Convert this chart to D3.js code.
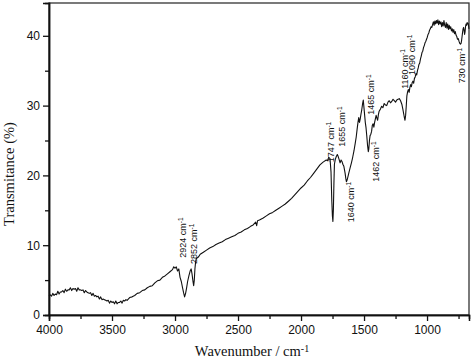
<!DOCTYPE html>
<html>
<head>
<meta charset="utf-8">
<script src="https://cdn.jsdelivr.net/npm/d3@7"></script>
<style>
  body { margin: 0; background: #fff; }
  .tick text { font-family: "Liberation Sans", Arial, sans-serif; font-size: 12px; fill: #111; }
</style>
</head>
<body>
<svg id="ftir"></svg>
<script>
let width = 474, height = 361;
let margin = {top: 3, right: 5, bottom: 46, left: 49};

// spectrum (wavenumber cm-1, transmittance %)
let wavenumber = [
  4000,3990,3980,3970,3960,3950,3940,3930,3920,3910,3900,3890,3880,3870,3860,3850,3840,3830,3820,3810,
  3800,3790,3780,3770,3760,3750,3740,3730,3720,3710,3700,3690,3680,3670,3660,3650,3640,3630,3620,3610,
  3600,3590,3580,3570,3560,3550,3540,3530,3520,3510,3500,3490,3480,3470,3460,3450,3440,3430,3420,3410,
  3400,3390,3380,3360,3340,3320,3300,3280,3260,3240,3220,3200,3180,3160,3140,3120,3100,3080,3060,3040,
  3020,3010,3000,2990,2980,2970,2960,2950,2940,2932,2924,2916,2908,2900,2890,2880,2872,2865,2858,2852,
  2847,2842,2836,2830,2815,2800,2775,2750,2725,2700,2675,2650,2625,2600,2575,2550,2525,2500,2475,2450,
  2425,2400,2380,2360,2352,2345,2330,2300,2275,2250,2225,2200,2175,2150,2125,2100,2075,2050,2025,2000,
  1975,1950,1925,1900,1875,1850,1825,1800,1790,1780,1770,1762,1756,1751,1747,1743,1739,1735,1728,1720,
  1712,1705,1698,1690,1682,1675,1668,1660,1655,1650,1645,1640,1635,1628,1620,1610,1600,1590,1580,1570,
  1562,1555,1548,1542,1536,1530,1524,1518,1512,1506,1500,1495,1490,1484,1478,1472,1466,1462,1457,1452,
  1446,1440,1434,1428,1422,1416,1410,1404,1398,1392,1386,1380,1370,1360,1350,1340,1330,1320,1310,1300,
  1290,1280,1270,1260,1250,1240,1230,1220,1210,1200,1192,1185,1179,1175,1170,1165,1160,1154,1148,1142,
  1136,1130,1124,1118,1112,1106,1100,1094,1088,1082,1076,1070,1064,1058,1052,1046,1040,1034,1028,1022,
  1016,1010,1004,998,992,986,980,974,968,962,956,950,944,938,932,926,920,914,908,902,
  896,890,884,878,872,866,860,854,848,842,836,830,824,818,812,806,800,794,788,782,
  776,770,764,758,752,746,740,735,730,726,722,718,714,710,706,702,698,694,690,686,
  682,678,674,670,667
];
let transmittance = [
  2.7,2.9,2.7,3.1,2.8,3.0,2.9,3.4,3.0,3.3,3.3,3.5,3.2,3.7,3.4,3.6,3.6,3.9,3.5,3.8,
  3.7,3.8,3.4,3.9,3.6,3.6,3.5,3.6,3.2,3.5,3.3,3.2,3.1,3.2,2.8,3.1,2.7,2.8,2.6,2.7,
  2.3,2.6,2.2,2.3,2.2,2.1,2.0,2.1,1.7,2.0,1.8,1.9,1.6,2.0,1.6,1.8,1.8,2.0,1.7,2.1,
  2.0,2.2,2.1,2.5,2.6,2.8,3.1,3.2,3.5,3.6,3.9,4.1,4.2,4.6,4.9,5.0,5.4,5.6,5.9,6.2,
  6.5,6.9,6.7,6.9,6.3,6.6,5.4,4.8,3.9,3.2,2.6,3.1,3.9,4.8,5.6,6.3,6.6,5.9,4.9,4.2,
  5.0,6.6,7.7,8.1,8.3,8.7,9.0,9.3,9.6,9.8,10.1,10.3,10.5,10.8,11.0,11.2,11.4,11.7,11.9,12.2,
  12.4,12.7,12.9,13.3,12.8,13.5,13.6,13.9,14.2,14.5,14.7,15.0,15.3,15.6,15.9,16.3,16.7,17.2,17.7,18.2,
  18.6,19.2,19.7,20.3,20.9,21.5,21.9,22.2,22.1,22.6,22.4,20.5,16.5,14.2,13.4,15.2,18.8,21.6,22.3,22.7,
  23.0,22.7,22.3,21.8,22.2,22.0,21.6,21.3,20.8,20.3,19.6,19.1,19.3,19.8,20.4,21.1,21.8,22.6,23.5,24.6,
  25.5,26.6,27.6,28.3,27.6,28.1,28.8,29.4,30.2,30.8,29.6,28.6,27.6,26.8,25.6,24.3,23.4,23.8,25.0,25.7,
  25.9,26.3,27.2,27.4,26.9,27.6,28.1,28.6,28.2,27.9,28.7,29.2,29.5,29.9,29.7,30.3,30.1,30.0,30.5,30.7,
  30.4,30.6,30.9,30.7,30.5,30.8,30.9,31.0,30.7,30.2,29.5,28.8,28.2,27.9,28.6,29.9,31.4,32.0,32.3,31.9,
  32.6,33.0,32.7,33.3,33.5,33.2,33.9,34.1,34.6,34.4,35.0,35.4,35.9,36.1,36.7,37.1,37.6,37.8,38.3,38.6,
  39.0,39.2,39.5,39.8,40.2,40.4,40.8,41.0,41.3,41.2,41.6,42.0,41.5,42.1,41.7,42.2,41.8,42.3,41.6,42.1,
  41.7,42.0,41.3,41.9,41.4,42.2,41.5,41.2,41.9,41.1,41.7,40.9,41.5,41.0,41.3,40.7,41.0,40.5,40.9,40.3,
  40.6,40.1,39.9,39.5,39.6,39.2,38.9,38.8,38.9,39.3,39.9,40.5,41.0,41.2,40.8,40.2,40.6,41.4,41.7,41.5,
  41.9,41.7,41.8,41.4,41.0
];

let xTicks = [4000, 3500, 3000, 2500, 2000, 1500, 1000];
let xMinor = [3750, 3250, 2750, 2250, 1750, 1250, 750];
let yTicks = [0, 10, 20, 30, 40];
let yMinor = [5, 15, 25, 35];

// band labels, anchored by the start of the rotated text (wavenumber, transmittance)
let peakNames = ["2924", "2852", "1747", "1655", "1640", "1465", "1462", "1160", "1090", "730"];
let peakLabelWn = [2913, 2825, 1738, 1651, 1579, 1421, 1381, 1150, 1098, 698];
let peakLabelT = [8.2, 7.3, 21.9, 24.1, 13.3, 28.7, 19.1, 32.4, 34.4, 33.2];

let svg = d3.select("#ftir")
    .attr("width", width)
    .attr("height", height)
    .style("display", "block");

let x = d3.scaleLinear().domain([4000, 667]).range([margin.left, width - margin.right]);
let y = d3.scaleLinear().domain([0, 44.7]).range([height - margin.bottom, margin.top]);

// frame
svg.append("rect")
    .attr("x", margin.left)
    .attr("y", margin.top)
    .attr("width", width - margin.right - margin.left)
    .attr("height", height - margin.bottom - margin.top)
    .style("fill", "none")
    .style("stroke", "#333")
    .style("stroke-width", 1.3);

// x axis, minor then major
let xMinorAxis = svg.append("g")
    .attr("transform", `translate(0,${height - margin.bottom})`)
    .call(d3.axisBottom(x).tickValues(xMinor).tickSize(4).tickFormat(""));
let xAxis = svg.append("g")
    .attr("transform", `translate(0,${height - margin.bottom})`)
    .call(d3.axisBottom(x).tickValues(xTicks).tickSize(6).tickPadding(4).tickFormat(d3.format("d")));

let yMinorAxis = svg.append("g")
    .attr("transform", `translate(${margin.left},0)`)
    .call(d3.axisLeft(y).tickValues(yMinor).tickSize(4).tickFormat(""));
let yAxis = svg.append("g")
    .attr("transform", `translate(${margin.left},0)`)
    .call(d3.axisLeft(y).tickValues(yTicks).tickSize(6).tickPadding(3).tickFormat(d3.format("d")));

[xMinorAxis, xAxis, yMinorAxis, yAxis].forEach(a => {
    a.select(".domain").style("stroke", "#111").style("stroke-width", 1.5);
    a.selectAll("line").style("stroke", "#111").style("stroke-width", 1.3);
});

// spectrum
let pts = wavenumber.map((w, i) => [w, transmittance[i]]);
svg.append("path")
    .datum(pts)
    .attr("d", d3.line().x(d => x(d[0])).y(d => y(d[1])))
    .style("fill", "none")
    .style("stroke", "#111")
    .style("stroke-width", 1.1)
    .style("stroke-linejoin", "round");

// band labels
peakNames.forEach((p, i) => {
    let t = svg.append("text")
        .attr("transform", `translate(${x(peakLabelWn[i])},${y(peakLabelT[i])}) rotate(-90)`)
        .style("font-family", "'Liberation Sans', Arial, sans-serif")
        .style("font-size", "9px")
        .style("fill", "#111");
    t.append("tspan").text(p + " cm");
    t.append("tspan").attr("dy", "-0.45em").style("font-size", "6.5px").text("-1");
});

// x label
let xl = svg.append("text")
    .attr("x", 252)
    .attr("y", 356)
    .style("text-anchor", "middle")
    .style("font-family", "'Liberation Serif', 'Times New Roman', serif")
    .style("font-size", "14.5px")
    .style("fill", "#111");
xl.append("tspan").text("Wavenumber  / cm");
xl.append("tspan").attr("dy", "-0.45em").style("font-size", "10px").text("-1");

// y label
svg.append("text")
    .attr("transform", `translate(14,${y(20.2)}) rotate(-90)`)
    .style("text-anchor", "middle")
    .style("font-family", "'Liberation Serif', 'Times New Roman', serif")
    .style("font-size", "14.5px")
    .style("fill", "#111")
    .text("Transmitance (%)");
</script>
</body>
</html>
